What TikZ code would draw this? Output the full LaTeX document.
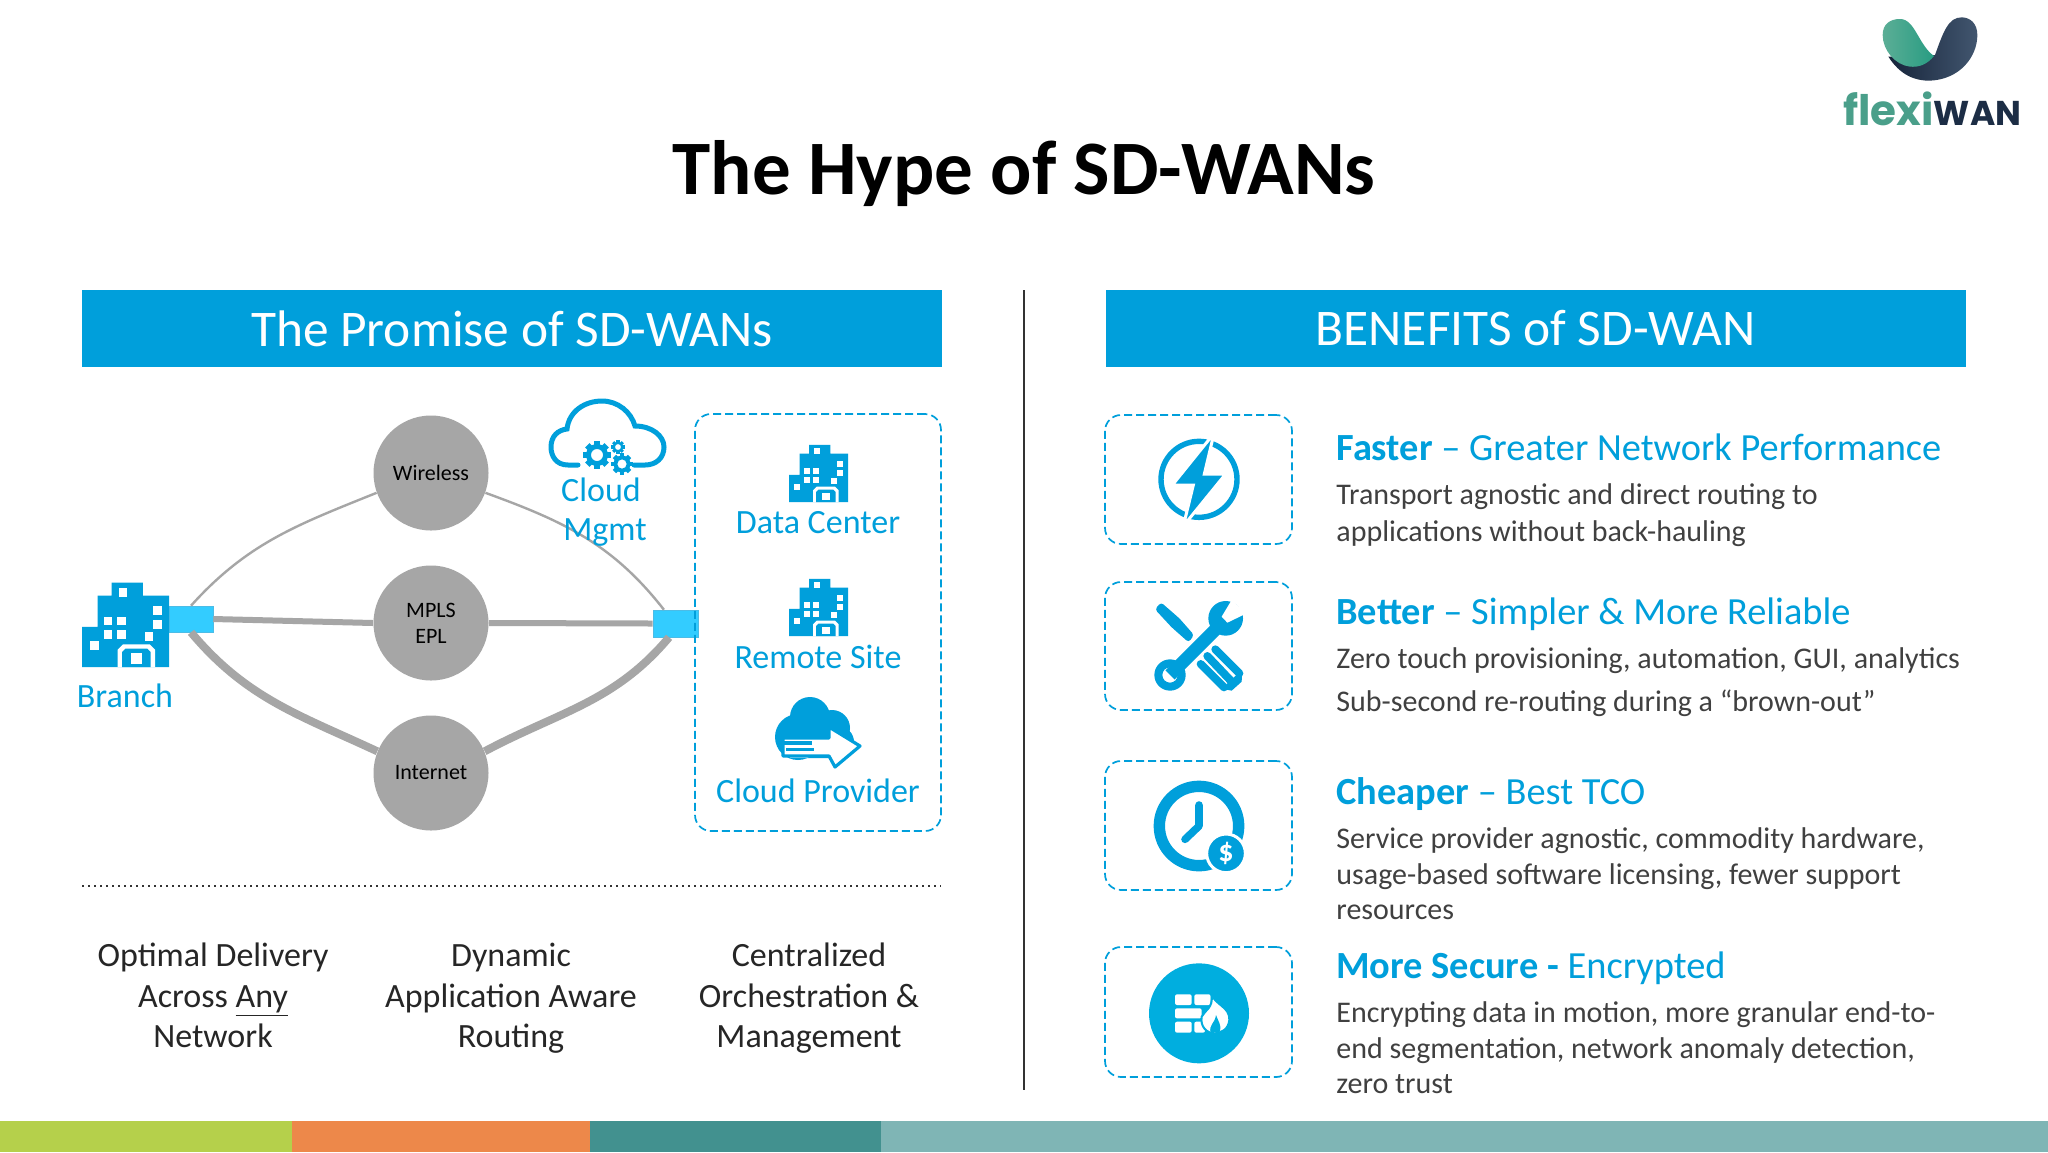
\documentclass[tikz,border=0pt]{standalone}
\usepackage{fontspec}
\setmainfont{Carlito}
\newfontfamily\logofont{Poppins}
\definecolor{sdblue}{HTML}{009FDB}
\definecolor{portblue}{HTML}{33CCFF}
\definecolor{linkgray}{HTML}{A6A6A6}
\definecolor{bodygray}{HTML}{404040}
\tikzset{
  headbar/.style={fill=sdblue,text=white,minimum width=430pt,minimum height=38.5pt,inner sep=0,font=\fontsize{25.7}{28}\selectfont},
  dashbox/.style={draw=sdblue,dashed,dash pattern=on 4pt off 2pt,line width=.85pt,rounded corners=8pt,inner sep=0},
  transport/.style={circle,fill=linkgray,minimum size=57.5pt,inner sep=0,align=center,font=\fontsize{11}{13}\selectfont},
  port/.style={fill=portblue,draw=sdblue!70,line width=.3pt,inner sep=0},
  sitelabel/.style={text=sdblue,inner sep=0,font=\fontsize{17}{20}\selectfont},
  claim/.style={align=center,inner sep=0,text=black!85,font=\fontsize{17}{20.4}\selectfont},
  benefit/.style={anchor=base west,inner sep=0,text=sdblue,font=\fontsize{19.2}{22}\selectfont},
  detail/.style={anchor=west,align=left,inner sep=0,text=bodygray,font=\fontsize{15}{17.8}\selectfont},
  building/.pic={
    \fill[sdblue] (34,3) -- (70,3) -- (70,18) -- (100,18) -- (100,100) -- (0,100) -- (0,54) -- (18,54) -- (18,18) -- (34,18) -- cycle;
    \foreach \wx/\wy in {42/9,82/30,82/46,25/42,40/42,25/58,40/58,9/70,72/60}
      \fill[white] (\wx,\wy) rectangle +(10,10);
    \fill[white] (41,100) -- (41,80) -- (47,74) -- (78,74) -- (84,80) -- (84,100) -- cycle;
    \fill[sdblue] (46,100) -- (46,83) -- (50,79) -- (75,79) -- (79,83) -- (79,100) -- cycle;
    \fill[white] (56,84) rectangle (69,96);
  },
  cog/.pic={
    \foreach \ca in {0,45,...,315}
      \fill[sdblue,rotate=\ca] (-.28,.75) rectangle (.28,1.25);
    \fill[even odd rule,sdblue] (0,0) circle (1) (0,0) circle (.55);
  },
}
\begin{document}
\begin{tikzpicture}[x=.5pt,y=-.5pt]
\useasboundingbox (0,0) rectangle (2048,1152);
% colour strip
\fill[fill=white] (0,0) rectangle (2048,1152);
\fill[fill={rgb,255:red,181;green,208;blue,75}] (0,1121) rectangle (292,1152);
\fill[fill={rgb,255:red,237;green,136;blue,74}] (292,1121) rectangle (590,1152);
\fill[fill={rgb,255:red,66;green,145;blue,143}] (590,1121) rectangle (881,1152);
\fill[fill={rgb,255:red,127;green,181;blue,181}] (881,1121) rectangle (2048,1152);

\node[inner sep=0,font=\fontsize{38.5}{42}\selectfont\bfseries] (title) at (1024,174) {The Hype of SD-WANs};

\node[headbar] (promise) at (512,328.5) {The Promise of SD-WANs};
\node[headbar] (benefits) at (1535.5,328.5) {BENEFITS of SD-WAN};
\coordinate (divtop) at (1024,290);
\coordinate (divbot) at (1024,1090);
\draw[line width=1pt,black!80] (divtop) -- (divbot);

% left diagram
\node[transport] (wireless) at (431,473) {Wireless};
\node[transport] (mpls) at (431,623) {MPLS\\EPL};
\node[transport] (internet) at (431,773) {Internet};
\node[port,minimum width=22pt,minimum height=13pt] (branchport) at (191,619) {};
\node[port,minimum width=22.5pt,minimum height=13.5pt] (siteport) at (675.5,623.5) {};

\draw[linkgray,line width=1.2pt] (branchport.north) to[out=48,in=202] (wireless.200);
\draw[linkgray,line width=1.2pt] (wireless.-20) to[out=-20,in=128] (siteport.130);
\draw[linkgray,line width=3pt] (branchport.east) -- (mpls.west);
\draw[linkgray,line width=3pt] (mpls.east) -- (siteport.west);
\draw[linkgray,line width=4pt] (branchport.south) to[out=-50,in=155] (internet.158);
\draw[linkgray,line width=4pt] (internet.22) to[out=28,in=-130] (siteport.-115);

\pic[scale=.87] at (82,580) {building};
\pic[scale=.59] at (789,443) {building};
\pic[scale=.59] at (789,577) {building};
\node[sitelabel] (branch) at (125,696) {Branch};

% cloud mgmt
\draw[sdblue,line width=2.5pt,line cap=round] (578,465) -- (568,465) .. controls (556,465) and (551,456) .. (551,447) .. controls (551,436) and (558,430) .. (567,429) .. controls (569,411) and (585,401) .. (602,401) .. controls (618,401) and (631,412) .. (635,426) .. controls (652,426) and (664,436) .. (664,447) .. controls (664,458) and (656,465) .. (645,465) -- (634,465);
\pic[scale=11] at (597,455) {cog};
\pic[scale=5.5] at (618,447) {cog};
\pic[scale=8.5] at (622,464) {cog};
\node[sitelabel] (cloudmgmt) at (601,490) {Cloud};
\node[sitelabel] (mgmt) at (605,533) {Mgmt};

\node[dashbox,minimum width=123pt,minimum height=208.5pt] (sites) at (818,622.5) {};
\node[sitelabel] (datacenter) at (818,523) {Data Center};
\node[sitelabel] (remotesite) at (818,657) {Remote Site};
\node[sitelabel] (cloudprovider) at (818,791) {Cloud Provider};

% cloud provider icon
\fill[sdblue] (810,717) circle (20) (798,737) circle (23) (832,728) circle (18) (838,742) circle (16) (790,745) -- (790,758) -- (845,758) -- (845,745) -- cycle;
\draw[sdblue,line width=1.6pt,fill=white,line join=round] (783,756) -- (783,738) -- (829,738) -- (829,727) -- (860,746) -- (835,767) -- (829,756) -- cycle;
\fill[sdblue] (778,741) rectangle (812,745);
\fill[sdblue] (786,748) rectangle (814,751);

\coordinate (dotleft) at (82,886);
\coordinate (dotright) at (941,886);
\draw[line width=1pt,dotted,black!80] (dotleft) -- (dotright);

\node[claim] (optimal) at (213,999) {\strut Optimal Delivery\\Across \underline{Any}\\\strut Network};
\node[claim] (dynamic) at (511,999) {\strut Dynamic\\Application Aware\\\strut Routing};
\node[claim] (central) at (809,999) {\strut Centralized\\Orchestration \&\\\strut Management};

% benefit boxes
\node[dashbox,minimum width=93.5pt,minimum height=64.5pt] (fastbox) at (1198.5,479.5) {};
\node[dashbox,minimum width=93.5pt,minimum height=64pt] (betterbox) at (1198.5,646) {};
\node[dashbox,minimum width=93.5pt,minimum height=64.5pt] (cheapbox) at (1198.5,825.5) {};
\node[dashbox,minimum width=93.5pt,minimum height=65pt] (securebox) at (1198.5,1012) {};

% lightning
\begin{scope}[shift={(1090,400)},scale=1/3]
  \draw[sdblue,line width=2.7pt] (327,238) circle (114);
  \fill[sdblue,draw=white,line width=1.5pt,line join=miter] (372,100) -- (247,255) -- (310,255) -- (280,378) -- (407,222) -- (343,222) -- cycle;
\end{scope}
% tools
\begin{scope}[shift={(1090,400)},scale=1/3]
  \fill[sdblue,rounded corners=1.5pt] (195,628) -- (213,607) -- (268,655) -- (312,705) -- (296,727) -- (245,682) -- cycle;
  \draw[sdblue,line width=4pt,line cap=round] (376,748) -- (448,820);
  \draw[sdblue,line width=4pt,line cap=round] (352,768) -- (425,845);
  \draw[sdblue,line width=4pt,line cap=round] (332,792) -- (402,862);
  \fill[sdblue] (410,852) -- (438,826) -- (456,822) -- (455,845) -- (425,872) -- (405,868) -- cycle;
  \draw[white,line width=7pt] (240,825) -- (405,660);
  \draw[sdblue,line width=6.5pt] (240,825) -- (405,660);
  \fill[sdblue] (407,655) circle (52);
  \fill[white] (395,650) -- (425,600) -- (470,640) -- (412,668) -- cycle;
  \fill[sdblue,even odd rule] (240,825) circle (47) (240,825) circle (23);
\end{scope}
% clock
\begin{scope}[shift={(1090,750)},scale=1/3]
  \draw[sdblue,line width=5.7pt] (327,228) circle (119);
  \draw[sdblue,line width=3.8pt,line cap=round,line join=round] (327,165) -- (327,228) -- (285,268);
  \fill[sdblue,draw=white,line width=1.5pt] (408,310) circle (58);
  \node[text=white,inner sep=0,font=\fontsize{15}{15}\selectfont\bfseries] (dollar) at (408,310) {\$};
\end{scope}
% firewall
\begin{scope}[shift={(1090,750)},scale=1/3]
  \fill[fill={rgb,255:red,0;green,174;blue,223}] (327,790) circle (150);
  \fill[white,rounded corners=1pt] (255,733) rectangle (305,765);
  \fill[white,rounded corners=1pt] (313,733) rectangle (362,765);
  \fill[white,rounded corners=1pt] (255,775) rectangle (335,805);
  \fill[white,rounded corners=1pt] (255,815) rectangle (305,848);
  \fill[white,rounded corners=1pt] (313,815) rectangle (345,848);
  \fill[white,draw={rgb,255:red,0;green,174;blue,223},line width=1pt] (365,733) .. controls (375,765) and (420,770) .. (418,810) .. controls (415,838) and (395,848) .. (375,850) .. controls (350,850) and (330,830) .. (335,800) .. controls (345,780) and (370,775) .. (365,733) -- cycle;
  \fill[fill={rgb,255:red,0;green,174;blue,223}] (378,795) .. controls (385,815) and (395,825) .. (390,845) -- (362,848) .. controls (355,825) and (375,820) .. (378,795) -- cycle;
\end{scope}

\node[benefit] (faster) at (1336,460) {\textbf{Faster} – Greater Network Performance};
\node[detail] (fastertext) at (1336,515) {Transport agnostic and direct routing to\\[.6pt]applications without back-hauling};
\node[benefit] (better) at (1336,624) {\textbf{Better} – Simpler \& More Reliable};
\node[detail] (bettertext) at (1336,682) {Zero touch provisioning, automation, GUI, analytics\\[4pt]Sub-second re-routing during a “brown-out”};
\node[benefit] (cheaper) at (1336,804) {\textbf{Cheaper} – Best TCO};
\node[detail] (cheapertext) at (1336,874) {Service provider agnostic, commodity hardware,\\usage-based software licensing, fewer support\\resources};
\node[benefit] (secure) at (1336,978) {\textbf{More Secure -} Encrypted};
\node[detail] (securetext) at (1336,1048) {Encrypting data in motion, more granular end-to-\\end segmentation, network anomaly detection,\\zero trust};

% logo
\begin{scope}[shift={(1820,0)},scale=1/3]
  \shade[left color={rgb,255:red,22;green,36;blue,58},right color={rgb,255:red,66;green,86;blue,111}] (205,170) .. controls (240,225) and (285,243) .. (330,242) .. controls (420,238) and (472,170) .. (472,105) .. controls (472,70) and (450,52) .. (425,52) .. controls (385,52) and (370,95) .. (345,165) -- cycle;
  \shade[left color={rgb,255:red,91;green,174;blue,150},right color={rgb,255:red,40;green,156;blue,130}] (188,105) .. controls (188,72) and (210,57) .. (240,57) .. controls (285,57) and (295,135) .. (342,168) .. controls (320,195) and (295,202) .. (270,200) .. controls (225,195) and (188,150) .. (188,105) -- cycle;
\end{scope}
\node[anchor=base west,inner sep=0,text={rgb,255:red,74;green,159;blue,138},font=\logofont\fontsize{21}{24}\selectfont\bfseries] (logotext) at (1843,125) {flexi\textcolor[RGB]{28,45,69}{\fontsize{17.2}{17}\selectfont WAN}};
\end{tikzpicture}
\end{document}
